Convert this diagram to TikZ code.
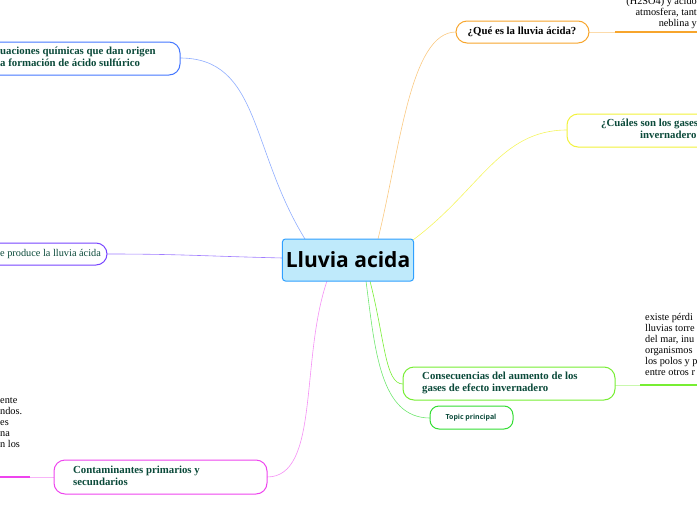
\documentclass[tikz,border=0pt]{standalone}
\usepackage{fontspec}
\setmainfont{Liberation Serif}
\newfontfamily\sansb{Open Sans}
\begin{document}
\begin{tikzpicture}[x=1pt,y=-1pt,
  topic/.style={line width=1pt,rounded corners=11pt},
  ttl/.style={font=\bfseries\fontsize{10.8}{12}\selectfont,text=txt,align=left,inner sep=0pt},
  body/.style={font=\fontsize{10.3}{11}\selectfont,inner sep=0pt},
  conn/.style={line width=0.6pt}]
\definecolor{txt}{HTML}{0B4A3A}
\definecolor{cor}{HTML}{F7A52C}
\definecolor{cye}{HTML}{F2F23A}
\definecolor{cbl}{HTML}{4477FF}
\definecolor{cpu}{HTML}{7744FF}
\definecolor{cgr}{HTML}{77EE33}
\definecolor{cgt}{HTML}{33DD33}
\definecolor{cma}{HTML}{EE44EE}
\useasboundingbox (0,0) rectangle (697,520);
\clip (0,0) rectangle (697,520);
% coordinates
\coordinate (cq) at (378,239);
\coordinate (cc) at (413,240);
\coordinate (ce) at (305,239);
\coordinate (cp) at (283,258);
\coordinate (cs1) at (370,281);
\coordinate (cs2) at (366,281);
\coordinate (ck) at (327,281);
\coordinate (q) at (456,32);
\coordinate (c) at (567,130);
\coordinate (e) at (180,58);
\coordinate (p) at (107,254);
\coordinate (s) at (403,384);
\coordinate (t) at (430,418);
\coordinate (k) at (267,477);
% connectors
\draw[conn,cor!60] (cq) .. controls (400,150) and (410,32) .. (q);
\draw[conn,cye!80] (cc) .. controls (480,190) and (500,130) .. (c);
\draw[conn,cbl!60] (ce) .. controls (250,150) and (260,58) .. (e);
\draw[conn,cpu!70] (cp) .. controls (200,256) and (180,254) .. (p);
\draw[conn,cgr] (cs1) .. controls (385,340) and (385,384) .. (s);
\draw[conn,cgt!70] (cs2) .. controls (375,350) and (380,418) .. (t);
\draw[conn,cma!60] (ck) .. controls (300,360) and (320,477) .. (k);
% outgoing lines
\coordinate (qo1) at (589,32); \coordinate (qo2) at (615,32); \coordinate (qo3) at (697,32);
\draw[line width=1pt,cor!40] (qo1) -- (qo2);
\draw[line width=1.5pt,cor] (qo2) -- (qo3);
\coordinate (so1) at (615,385); \coordinate (so2) at (640,385); \coordinate (so3) at (697,385);
\draw[line width=1pt,cgr!40] (so1) -- (so2);
\draw[line width=1.5pt,cgr] (so2) -- (so3);
\coordinate (ko1) at (54,477); \coordinate (ko2) at (30,477); \coordinate (ko3) at (0,477);
\draw[line width=1pt,cma!40] (ko1) -- (ko2);
\draw[line width=1.5pt,cma] (ko2) -- (ko3);
% center
\node[draw=cbl!70!cyan,line width=1pt,fill=cyan!25,rounded corners=3pt,minimum width=130pt,minimum height=42pt,font=\sansb\bfseries\fontsize{21}{24}\selectfont] (main) at (348,260) {Lluvia acida};
% topics
\draw[topic,draw=cor,fill=white] (456,21) rectangle (589,43);
\node[ttl,text=black] (nq) at (522,32) {¿Qué es la lluvia ácida?};
\draw[topic,draw=cye,fill=white] (567,114) rectangle (720,147);
\node[ttl,anchor=north west] (nc1) at (601,119) {¿Cuáles son los gases};
\node[ttl,anchor=north west] (nc2) at (640,131) {invernadero};
\draw[topic,draw=cbl,fill=white] (-40,42) rectangle (180,75);
\node[ttl,anchor=north west] (ne) at (0,47) {uaciones químicas que dan origen\\a formación de ácido sulfúrico};
\draw[topic,draw=cpu,fill=white] (-40,243) rectangle (107,265);
\node[body,text=txt,anchor=west] (np) at (0,254) {e produce la lluvia ácida};
\draw[topic,draw=cgr,fill=white] (403,367) rectangle (615,400);
\node[ttl,anchor=north west] (ns) at (422,372) {Consecuencias del aumento de los\\gases de efecto invernadero};
\draw[topic,draw=cgt,fill=white,rounded corners=9pt] (430,406) rectangle (513,429);
\node[font=\sansb\bfseries\fontsize{7}{8}\selectfont,text=txt] (nt) at (471,417.5) {Topic principal};
\draw[topic,draw=cma,fill=white] (54,460) rectangle (267,494);
\node[ttl,anchor=north west] (nk) at (73,466) {Contaminantes primarios y\\secundarios};
% body texts
\node[body,align=right,anchor=north east] (bq) at (697,-3) {(H2SO4) y ácido\\atmosfera, tant\\neblina y};
\node[body,align=left,anchor=north west] (bs) at (645,313) {existe pérdi\\lluvias torre\\del mar, inu\\organismos\\los polos y p\\entre otros r};
\node[body,align=left,anchor=north west] (bk) at (0,397) {ente\\ndos.\\es\\na\\n los};
\end{tikzpicture}
\end{document}
